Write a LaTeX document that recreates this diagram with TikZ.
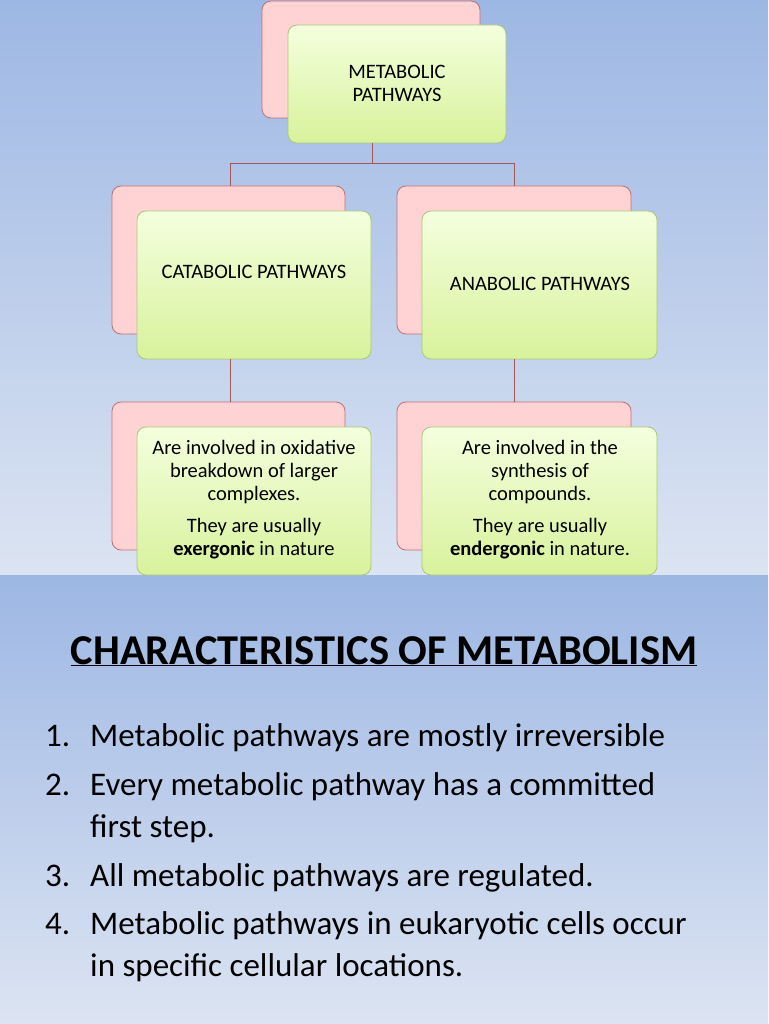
\documentclass[tikz,border=0pt]{standalone}
\usepackage{fontspec}
\setmainfont{Carlito}
\definecolor{bgtop}{HTML}{9DB7E4}
\definecolor{bgbot}{HTML}{DCE4F2}
\definecolor{redfill}{HTML}{FFD3D3}
\definecolor{redline}{HTML}{C07070}
\definecolor{grtop}{HTML}{F4FFDE}
\definecolor{grbot}{HTML}{D8F29C}
\definecolor{grline}{HTML}{A8C878}
\definecolor{conn}{HTML}{A05858}
\tikzset{
 backbox/.style={draw=redline,fill=redfill,rounded corners=9pt,line width=0.8pt},
 frontbox/.style={draw=grline,top color=grtop,bottom color=grbot,rounded corners=9pt,line width=0.8pt},
 boxtext/.style={font=\fontsize{20.5}{23}\selectfont,align=center,text=black,inner sep=0pt},
 connector/.style={draw=conn,line width=1pt},
 item/.style={anchor=base west,font=\fontsize{33}{40}\selectfont,inner sep=0pt}
}
\begin{document}
\begin{tikzpicture}[x=1pt,y=-1pt]
\useasboundingbox (0,0) rectangle (768,1024);
\shade[top color=bgtop,bottom color=bgbot] (0,0) rectangle (768,575);
\shade[top color=bgtop,bottom color=bgbot] (0,575) rectangle (768,1024);
% top
\draw[backbox] (262,1) rectangle (480,118);
\draw[frontbox] (288,25) rectangle (506,143);
\node[boxtext] (top) at (397,83) {METABOLIC\\PATHWAYS};
\coordinate (topb) at (372,143);
% mid
\draw[backbox] (112,186) rectangle (345,334);
\draw[frontbox] (137,211) rectangle (371,359);
\node[boxtext] (cat) at (254,272) {CATABOLIC PATHWAYS};
\draw[backbox] (397,186) rectangle (631,334);
\draw[frontbox] (422,211) rectangle (657,359);
\node[boxtext] (ana) at (540,284) {ANABOLIC PATHWAYS};
% bottom
\draw[backbox] (112,402) rectangle (345,550);
\draw[frontbox] (137,427) rectangle (371,575);
\node[boxtext] (catd) at (254,500) {Are involved in oxidative\\breakdown of larger\\complexes.\\[9pt]They are usually\\\textbf{exergonic} in nature};
\draw[backbox] (397,402) rectangle (631,550);
\draw[frontbox] (422,427) rectangle (657,575);
\node[boxtext] (anad) at (540,500) {Are involved in the\\synthesis of\\compounds.\\[9pt]They are usually\\\textbf{endergonic} in nature.};
% connectors
\coordinate (cl) at (230,186);
\coordinate (cr) at (514,186);
\draw[connector] (topb) -- (372,164) -| (cl);
\draw[connector] (372,164) -| (cr);
\draw[connector] (230,359) -- (230,402);
\draw[connector] (514,359) -- (514,402);
% bottom slide
\node[font=\fontsize{42.5}{48}\selectfont\bfseries,anchor=base,inner sep=0pt] (title) at (384,664) {\underline{CHARACTERISTICS OF METABOLISM}};
\node[item] (i1) at (45,746) {1.};
\node[item] (t1) at (90,746) {Metabolic pathways are mostly irreversible};
\node[item] (i2) at (45,795) {2.};
\node[item] (t2) at (90,795) {Every metabolic pathway has a committed};
\node[item] (t2b) at (90,837) {first step.};
\node[item] (i3) at (45,886) {3.};
\node[item] (t3) at (90,886) {All metabolic pathways are regulated.};
\node[item] (i4) at (45,934) {4.};
\node[item] (t4) at (90,934) {Metabolic pathways in eukaryotic cells occur};
\node[item] (t4b) at (90,976) {in specific cellular locations.};
\end{tikzpicture}
\end{document}
